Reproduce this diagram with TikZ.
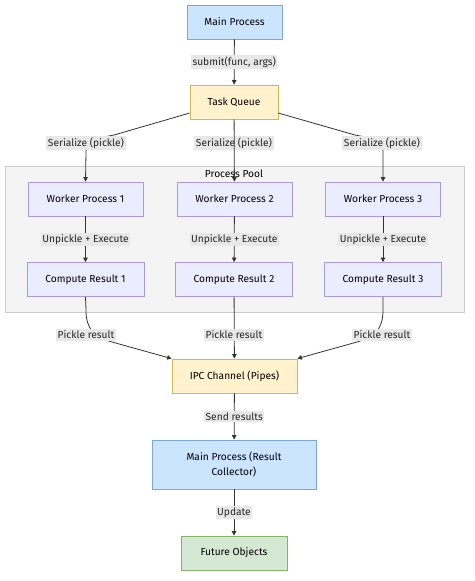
\documentclass[tikz,border=0pt]{standalone}
\usepackage{fontspec}
\setmainfont{Fira Sans}
\usetikzlibrary{arrows.meta}

\definecolor{mainfill}{HTML}{CCE5FF}
\definecolor{maindraw}{HTML}{7BA7D9}
\definecolor{queuefill}{HTML}{FFF2CC}
\definecolor{queuedraw}{HTML}{D6B656}
\definecolor{workfill}{HTML}{ECECFF}
\definecolor{workdraw}{HTML}{A899E0}
\definecolor{futfill}{HTML}{D5E8D4}
\definecolor{futdraw}{HTML}{82B366}
\definecolor{poolfill}{HTML}{F4F4F4}
\definecolor{pooldraw}{HTML}{CCCCCC}
\definecolor{edgecol}{HTML}{333333}
\definecolor{lblfill}{HTML}{E8E8E8}

\begin{document}
\begin{tikzpicture}[x=1pt, y=-1pt, font=\fontsize{10.2}{15}\selectfont,
    box/.style={draw, line width=0.8pt, minimum height=34pt, inner sep=2pt},
    mainbox/.style={box, fill=mainfill, draw=maindraw},
    queuebox/.style={box, fill=queuefill, draw=queuedraw},
    workbox/.style={box, fill=workfill, draw=workdraw},
    futbox/.style={box, fill=futfill, draw=futdraw},
    lbl/.style={fill=lblfill, inner sep=1.5pt, text=black!85},
    edge/.style={draw=edgecol, line width=0.8pt, -{Triangle[length=4.5pt, width=4.5pt]}}]
            \useasboundingbox (0,0) rectangle (474,581);

            % Process Pool
            \draw [draw=pooldraw, fill=poolfill, line width=0.8pt] (5,166) rectangle (464,312);
            \node (pool) at (234,174) {Process Pool};

            % Nodes
            \node [mainbox, minimum width=95pt] (main) at (234.5,22) {Main Process};
            \node [queuebox, minimum width=88pt] (tq) at (234,102) {Task Queue};
            \node [workbox, minimum width=115pt] (w1) at (85.5,199) {Worker Process 1};
            \node [workbox, minimum width=115pt] (w2) at (234.5,199) {Worker Process 2};
            \node [workbox, minimum width=115pt] (w3) at (383,199) {Worker Process 3};
            \node [workbox, minimum width=117pt] (cr1) at (85.5,279.5) {Compute Result 1};
            \node [workbox, minimum width=117pt] (cr2) at (234,279.5) {Compute Result 2};
            \node [workbox, minimum width=117pt] (cr3) at (383,279.5) {Compute Result 3};
            \node [queuebox, minimum width=125pt] (ipc) at (234.5,376) {IPC Channel (Pipes)};
            \node [mainbox, minimum width=164pt, minimum height=49pt, align=center] (coll) at (234,464.5) {Main Process (Result\\Collector)};
            \node [futbox, minimum width=106pt] (fut) at (234,553) {Future Objects};

            % Connectors
            \draw [edge] (main) -- node [lbl] {submit(func, args)} (tq);
            \draw [edge] (tq.194) -- (114,135) .. controls (92,139) and (86,143) .. (86,152) -- (w1.north);
            \draw [edge] (tq.346) -- (355,135) .. controls (377,139) and (383,143) .. (383,152) -- (w3.north);
            \node [lbl] (s1) at (86,143) {Serialize (pickle)};
            \node [lbl] (s2) at (234,143) {Serialize (pickle)};
            \node [lbl] (s3) at (382,143) {Serialize (pickle)};
            \draw [edge] (tq) -- (w2);
            \draw [edge] (w1) -- node [lbl] {Unpickle + Execute} (cr1);
            \draw [edge] (w2) -- node [lbl] {Unpickle + Execute} (cr2);
            \draw [edge] (w3) -- node [lbl] {Unpickle + Execute} (cr3);
            \draw [edge] (cr1.south) -- (86,310) .. controls (86,330) and (95,337) .. (112,342) -- (ipc.north west);
            \draw [edge] (cr3.south) -- (383,310) .. controls (383,330) and (374,337) .. (357,342) -- (ipc.north east);
            \draw [edge] (cr2) -- (ipc);
            \node [lbl] (p1) at (86,335) {Pickle result};
            \node [lbl] (p2) at (234,335) {Pickle result};
            \node [lbl] (p3) at (382,335) {Pickle result};
            \draw [edge] (ipc) -- node [lbl] {Send results} (coll);
            \draw [edge] (coll) -- node [lbl] {Update} (fut);
        \end{tikzpicture}
\end{document}
